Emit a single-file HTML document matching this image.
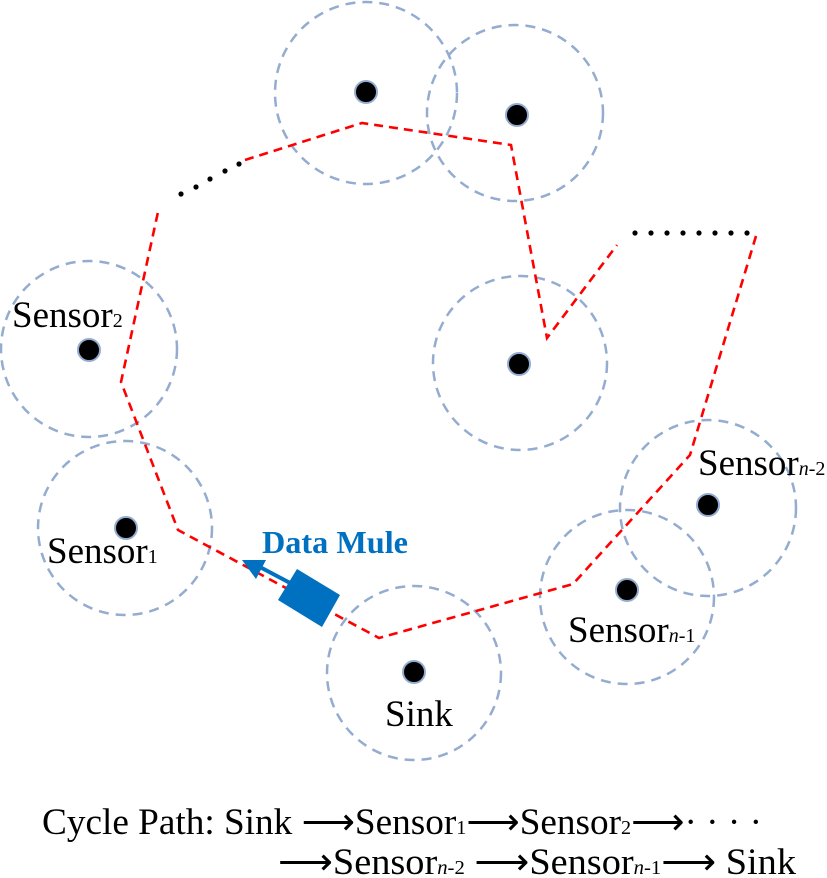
<!DOCTYPE html>
<html><head><style>
html,body{margin:0;padding:0;background:#fff;}
svg{display:block;}
text{font-family:"Liberation Serif",serif;fill:#000;}
</style></head><body>
<svg width="827" height="878" viewBox="0 0 827 878" xmlns="http://www.w3.org/2000/svg">
<g fill="none" stroke="#93acd0" stroke-width="2.5" stroke-dasharray="10,7">
<circle cx="366" cy="93" r="91"/>
<circle cx="515" cy="113" r="88"/>
<circle cx="89" cy="349" r="88"/>
<circle cx="520" cy="363" r="87"/>
<circle cx="125" cy="528" r="87"/>
<circle cx="414" cy="673" r="87"/>
<circle cx="627" cy="597" r="87"/>
<circle cx="708" cy="508" r="88"/>
</g>
<g fill="#000" stroke="#93acd0" stroke-width="2">
<circle cx="366" cy="92" r="11"/>
<circle cx="517" cy="115" r="11"/>
<circle cx="89" cy="350" r="11"/>
<circle cx="519" cy="364" r="11"/>
<circle cx="126" cy="528" r="11"/>
<circle cx="414" cy="672" r="11"/>
<circle cx="627" cy="590" r="11"/>
<circle cx="708" cy="505" r="11"/>
</g>
<g fill="none" stroke="#ff0000" stroke-width="2.6" stroke-dasharray="9,6">
<polyline points="245,160 362,123 511,145 547,338 617,245"/>
<polyline points="756,236 690,455 573,584 379,638 178,530 121,382 158,212"/>
</g>
<g fill="#000">
<circle cx="181" cy="194" r="2.6"/><circle cx="196" cy="187" r="2.6"/><circle cx="210" cy="179" r="2.6"/><circle cx="225" cy="171" r="2.6"/><circle cx="239" cy="164" r="2.6"/>
<circle cx="635" cy="233" r="2.6"/><circle cx="651" cy="233" r="2.6"/><circle cx="667" cy="233" r="2.6"/><circle cx="683" cy="233" r="2.6"/><circle cx="699" cy="233" r="2.6"/><circle cx="715" cy="233" r="2.6"/><circle cx="731" cy="233" r="2.6"/><circle cx="747" cy="233" r="2.6"/>
</g>
<g fill="#0070c0" stroke="none">
<polygon points="278,600 297,569 340,595 322,627"/>
<line x1="292" y1="584" x2="258" y2="566" stroke="#0070c0" stroke-width="4"/>
<polygon points="242,560 266,560 256,579"/>
</g>
<text x="262" y="553" font-size="32" font-weight="bold" style="fill:#0070c0" textLength="146" lengthAdjust="spacingAndGlyphs">Data Mule</text>
<text x="12" y="327" font-size="37">Sensor<tspan font-size="20">2</tspan></text>
<text x="47" y="563" font-size="37">Sensor<tspan font-size="20">1</tspan></text>
<text x="385" y="726" font-size="37">Sink</text>
<text x="568" y="642" font-size="37">Sensor<tspan font-size="20" font-style="italic">n</tspan><tspan font-size="20">-1</tspan></text>
<text x="698" y="475" font-size="37">Sensor<tspan font-size="20" font-style="italic">n</tspan><tspan font-size="20">-2</tspan></text>
<text x="42" y="834" font-size="37" textLength="720" lengthAdjust="spacingAndGlyphs">Cycle Path: Sink ⟶Sensor<tspan font-size="20">1</tspan>⟶Sensor<tspan font-size="20">2</tspan>⟶· · · ·</text>
<text x="278" y="874" font-size="37" textLength="518" lengthAdjust="spacingAndGlyphs">⟶Sensor<tspan font-size="20" font-style="italic">n</tspan><tspan font-size="20">-2</tspan> ⟶Sensor<tspan font-size="20" font-style="italic">n</tspan><tspan font-size="20">-1</tspan>⟶ Sink</text>
</svg>
</body></html>
